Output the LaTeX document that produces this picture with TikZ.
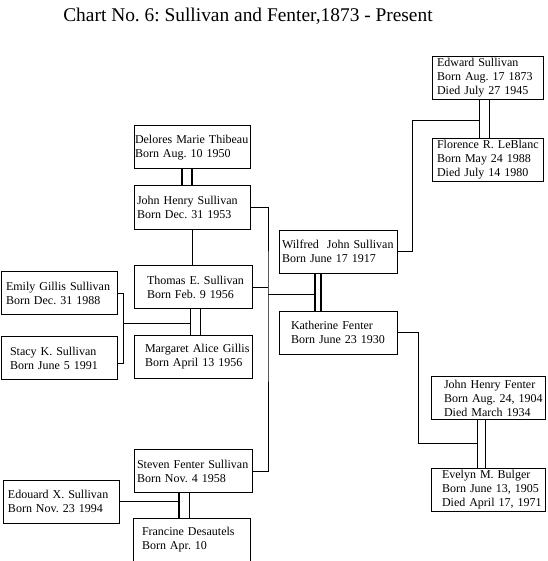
\documentclass[tikz,border=0pt]{standalone}
\usepackage{fontspec}
\setmainfont{Liberation Serif}
\frenchspacing
\usetikzlibrary{positioning}

\begin{document}
\begin{tikzpicture}[x=1pt,y=-1pt,line width=1pt,
 box/.style={draw,align=left,text width=#1,inner xsep=1pt,inner ysep=0pt,
 minimum height=43pt,font=\fontsize{12}{14}\selectfont},
 dbl/.style={line width=2pt}]
\useasboundingbox (0,0) rectangle (547,561);
\node[font=\fontsize{19.4}{22}\selectfont] (title) at (248,16) {Chart No. 6: Sullivan and Fenter,1873 - Present};
\node[box=114pt] (dmt) at (192,147.5) {Delores Marie Thibeau\\Born Aug. 10 1950};
\node[box=114pt,below=16pt of dmt] (jhs) {\hspace*{2pt}John Henry Sullivan\\\hspace*{2pt}Born Dec. 31 1953};
\node[box=116pt] (tes) at (193,287) {\hspace*{12pt}Thomas E. Sullivan\\\hspace*{12pt}Born Feb. 9 1956};
\node[box=116pt,below=26pt of tes] (mag) {\hspace*{10pt}Margaret Alice Gillis\\\hspace*{10pt}Born April 13 1956};
\node[box=114pt] (egs) at (59,293) {\hspace*{4pt}Emily Gillis Sullivan\\\hspace*{4pt}Born Dec. 31 1988};
\node[box=114pt,below=21pt of egs] (sks) {\hspace*{8pt}Stacy K. Sullivan\\\hspace*{8pt}Born June 5 1991};
\node[box=116pt] (wjs) at (338,251.5) {\hspace*{2pt}Wilfred\ \ John Sullivan\\\hspace*{2pt}Born June 17 1917};
\node[box=116pt,below=37pt of wjs] (kfs) {\hspace*{11pt}Katherine Fenter\\\hspace*{11pt}Born June 23 1930};
\node[box=109pt] (eds) at (487.5,78) {\hspace*{4pt}Edward Sullivan\\\hspace*{4pt}Born Aug. 17 1873\\\hspace*{4pt}Died July 27 1945};
\node[box=109pt,below=38pt of eds] (frl) {\hspace*{4pt}Florence R. LeBlanc\\\hspace*{4pt}Born May 24 1988\\\hspace*{4pt}Died July 14 1980};
\node[box=112pt] (jhf) at (488,398) {\hspace*{12pt}John Henry Fenter\\\hspace*{12pt}Born Aug. 24, 1904\\\hspace*{12pt}Died March 1934};
\node[box=112pt,below=48pt of jhf] (emb) {\hspace*{10pt}Evelyn M. Bulger\\\hspace*{10pt}Born June 13, 1905\\\hspace*{10pt}Died April 17, 1971};
\node[box=116pt] (sfs) at (193,471) {\hspace*{2pt}Steven Fenter Sullivan\\\hspace*{2pt}Born Nov. 4 1958};
\node[box=115pt,below=25pt of sfs,xshift=-1.5pt] (fds) {\hspace*{8pt}Francine Desautels\\\hspace*{8pt}Born Apr. 10};
\node[box=114pt] (exs) at (61,501.5) {\hspace*{4pt}Edouard X. Sullivan\\\hspace*{4pt}Born Nov. 23 1994};
\draw[dbl] ([xshift=-10pt]dmt.south) -- ([xshift=-10pt]jhs.north);
\draw[dbl] (dmt.south) -- (jhs.north);
\draw (jhs.south) -- (jhs.south |- tes.north);
\draw ([xshift=-3pt]tes.south) -- ([xshift=-3pt]mag.north);
\draw ([xshift=7pt]tes.south) -- ([xshift=7pt]mag.north);
\coordinate (tm) at ([xshift=-3pt,yshift=-14pt]tes.south);
\draw (egs.east) -- ++(6,0) coordinate (eg) |- ([yshift=-5pt]sks.east);
\draw (eg |- tm) -- (tm);
\coordinate (sib) at (268,294);
\draw (jhs.east) -| (sib) |- (sfs.east);
\draw (tes.east) -- (tes.east -| sib);
\draw (sib) -- ([xshift=-23pt]wjs.south |- sib);
\draw[dbl] ([xshift=-23pt]wjs.south) -- ([xshift=-23pt]kfs.north);
\draw[dbl] ([xshift=-17pt]wjs.south) -- ([xshift=-17pt]kfs.north);
\coordinate (ef) at ([xshift=-8.5pt,yshift=-21pt]eds.south);
\draw (wjs.east) -- ++(15,0) |- (ef);
\draw ([xshift=-8.5pt]eds.south) -- ([xshift=-8.5pt]frl.north);
\draw ([xshift=1.5pt]eds.south) -- ([xshift=1.5pt]frl.north);
\coordinate (fb) at ([xshift=-11pt,yshift=-23pt]jhf.south);
\draw (kfs.east) -- ++(21,0) |- (fb);
\draw ([xshift=-11pt]jhf.south) -- ([xshift=-11pt]emb.north);
\draw ([xshift=-3pt]jhf.south) -- ([xshift=-3pt]emb.north);
\draw[dbl] ([xshift=-14pt]sfs.south) -- ([xshift=-14pt]sfs.south |- fds.north);
\draw ([xshift=-4pt]sfs.south) -- ([xshift=-4pt]sfs.south |- fds.north);
\draw (exs.east) -- ([xshift=-14pt]sfs.south |- exs.east);
\end{tikzpicture}
\end{document}
